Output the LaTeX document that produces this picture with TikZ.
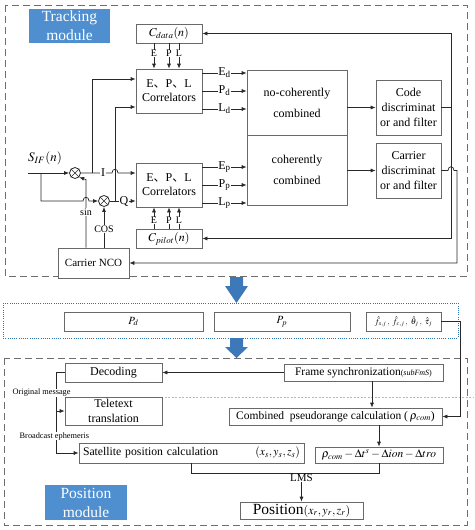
\documentclass[tikz,border=0pt]{standalone}
\usepackage{mathptmx}
\usepackage{fontspec}
\setmainfont{Liberation Serif}
\newfontfamily\cjk{Noto Sans CJK SC}
\usetikzlibrary{arrows.meta,shadows,calc}
\definecolor{lblue}{RGB}{79,143,207}
\definecolor{ablue}{RGB}{61,120,185}
\definecolor{dblue}{RGB}{46,117,182}
\definecolor{bord}{RGB}{105,105,105}
\definecolor{ln}{RGB}{40,40,40}
\definecolor{dashg}{RGB}{110,110,110}
\newcommand{\EPL}{E{\cjk 、}P{\cjk 、}L}
\begin{document}
\begin{tikzpicture}[x=1pt,y=-1pt,
  box/.style={draw=bord, line width=0.7pt, fill=white, inner sep=0pt, align=center,
    drop shadow={shadow xshift=1pt, shadow yshift=-1pt, opacity=0.3, fill=gray},
    font=\fontsize{12}{14}\selectfont},
  modlbl/.style={fill=lblue, text=white, inner sep=0pt, align=center, font=\fontsize{15.5}{19}\selectfont},
  lbl/.style={fill=white, inner sep=1pt, font=\fontsize{12}{14}\selectfont},
  sml/.style={fill=white, inner sep=0.6pt, font=\fontsize{10}{12}\selectfont},
  tiny/.style={fill=white, inner sep=0.5pt, font=\fontsize{8.3}{10}\selectfont},
  conn/.style={draw=ln, line width=0.7pt},
  arr/.style={conn, -{Latex[length=5pt,width=4pt]}},
  mix/.style={circle, draw=ln, line width=0.8pt, minimum size=11pt, inner sep=0pt, fill=white},
  modframe/.style={draw=dashg, line width=0.9pt, dash pattern=on 7pt off 4pt}
]
\useasboundingbox (0,0) rectangle (474,530);

% ---------- frames ----------
\draw[modframe] (5,5) rectangle (467,276);
\draw[modframe] (4,358) rectangle (467,525);
\draw[dblue, line width=1pt, dash pattern=on 1pt off 1.2pt] (3,303) rectangle (458,338);
\coordinate (dstart) at (70,397);
\coordinate (dend) at (474,397);
\draw[gray!55, line width=0.5pt, dash pattern=on 2pt off 1.5pt] (dstart) -- (dend);

% ---------- blue arrows ----------
\fill[ablue] (230,277) -- (243,277) -- (243,286) -- (248,286) -- (236.5,303) -- (225,286) -- (230,286) -- cycle;
\fill[ablue] (230,338) -- (243,338) -- (243,347) -- (248,347) -- (236.5,358) -- (225,347) -- (230,347) -- cycle;

% ---------- tracking module ----------
\node[modlbl, minimum width=81pt, minimum height=34pt] (trk) at (69.5,26) {Tracking\\module};
\node[box, minimum width=66pt, minimum height=19pt] (cdata) at (169,33.5) {$C_{data}(n)$};
\node[box, minimum width=66pt, minimum height=44pt] (corr1) at (169,91) {\EPL\\Correlators};
\node[box, minimum width=100pt, minimum height=65pt, font=\fontsize{12}{21}\selectfont] (nocoh) at (297,102.5) {no-coherently\\combined};
\node[box, minimum width=100pt, minimum height=70pt, font=\fontsize{12}{21}\selectfont] (coh) at (297,170) {coherently\\combined};
\node[box, minimum width=65pt, minimum height=55pt, font=\fontsize{12}{15}\selectfont] (codedisc) at (408.5,107.5) {Code\\discriminat\\or and filter};
\node[box, minimum width=65pt, minimum height=55pt, font=\fontsize{12}{15}\selectfont] (cardisc) at (408.5,170.5) {Carrier\\discriminat\\or and filter};
\node[box, minimum width=66pt, minimum height=44pt] (corr2) at (169,185) {\EPL\\Correlators};
\node[box, minimum width=66pt, minimum height=19pt] (cpilot) at (169,238.5) {$C_{pilot}(n)$};
\node[box, minimum width=71pt, minimum height=30pt, font=\fontsize{11}{13}\selectfont] (nco) at (93.5,263) {Carrier NCO};

\node[mix] (mix1) at (75,173) {};
\node[mix] (mix2) at (104,201) {};
\draw[conn] (mix1.north west) -- (mix1.south east) (mix1.north east) -- (mix1.south west);
\draw[conn] (mix2.north west) -- (mix2.south east) (mix2.north east) -- (mix2.south west);

\node[inner sep=0pt, font=\fontsize{13}{15}\selectfont] (sif) at (45,158) {$S_{IF}(n)$};
\coordinate (in) at (28,173);
\coordinate (br) at (41,173);
\coordinate (Ibr) at (92,173);
\coordinate (Qbr) at (115,201);
\coordinate (cr) at (451,0);

\draw[arr] (in) -- (mix1.west);
\draw[arr] (br) -- (br |- mix2.west) -- (83,201) .. controls (83,196) and (89,196) .. (89,201) -- (mix2.west);
\draw[arr] (mix1.east) -- (112,173) .. controls (112,168) and (118,168) .. (118,173) -- ([yshift=12pt]corr2.west);
\draw[arr] (Ibr) |- ([yshift=12pt]corr1.west);
\draw[arr] (mix2.east) -- ([yshift=-16pt]corr2.west);
\draw[arr] (Qbr) |- ([yshift=-16pt]corr1.west);
\node[lbl] (ilbl) at (103,173) {I};
\node[lbl] (qlbl) at (124,201) {Q};

\draw[arr] ([xshift=-7.5pt]nco.north) -- ++(0,-68) -- (mix1.south east);
\draw[arr] (nco.north -| mix2) -- (mix2.south);
\node[sml] (sinl) at (86,212) {sin};
\node[sml] (cosl) at (104,229) {COS};

\foreach \dx/\t in {-15/E,0/P,10/L}{
  \draw[arr] ([xshift=\dx pt]cdata.south) -- ([xshift=\dx pt]cdata.south |- corr1.north)
    node[pos=0.4, sml, inner sep=0.3pt] (cd\t) {\t};
  \draw[arr] ([xshift=\dx pt]cpilot.north) -- ([xshift=\dx pt]cpilot.north |- corr2.south)
    node[pos=0.4, sml, inner sep=0.3pt] (cp\t) {\t};
}
\foreach \dy/\t in {18/E,0/P,-18/L}{
  \draw[arr] ([yshift=\dy pt]corr1.east) -- ([yshift=\dy pt]corr1.east -| nocoh.west)
    node[midway, lbl, inner sep=0.5pt] (od\t) {\t\textsubscript{d}};
  \draw[arr] ([yshift=\dy pt]corr2.east) -- ([yshift=\dy pt]corr2.east -| coh.west)
    node[midway, lbl, inner sep=0.5pt] (op\t) {\t\textsubscript{p}};
}
\draw[arr] (codedisc.west -| nocoh.east) -- (codedisc.west);
\draw[arr] (cardisc.west -| coh.east) -- (cardisc.west);
\draw[conn] (codedisc.east) -- (codedisc.east -| cr);
\draw[arr] (codedisc.east -| cr) |- (cdata.east);
\draw[arr] (codedisc.east -| cr) |- (cpilot.east);
\draw[arr] (cardisc.east) -- (448,170.5) .. controls (448,165.5) and (454,165.5) .. (454,170.5) -- (457,170.5) |- (nco.east);

% ---------- middle ----------
\node[box, minimum width=139pt, minimum height=19pt, font=\fontsize{11}{13}\selectfont] (pd) at (133.5,321.5) {$P_d$};
\node[box, minimum width=136pt, minimum height=19pt, font=\fontsize{11}{13}\selectfont] (pp) at (282,321.5) {$P_p$};
\node[box, minimum width=75pt, minimum height=19pt, font=\fontsize{8.5}{11}\selectfont] (par) at (403.5,321.5) {$\hat{f}_{s,j}\,,\ \hat{f}_{c,j}\,,\ \hat{\theta}_{j}\,,\ \hat{\tau}_{j}$};

% ---------- position module ----------
\node[box, minimum width=97pt, minimum height=19pt] (decod) at (113.5,372.5) {Decoding};
\node[box, minimum width=159pt, minimum height=17pt, font=\fontsize{11.5}{13}\selectfont] (frame) at (363.5,372.5) {Frame synchronization{\fontsize{8}{10}\selectfont(\textit{subFmS})}};
\node[box, minimum width=97pt, minimum height=28pt, font=\fontsize{12}{15}\selectfont] (tele) at (113.5,411) {Teletext\\translation};
\node[box, minimum width=213pt, minimum height=17pt, font=\fontsize{11.5}{13}\selectfont] (comb) at (335.5,416.5) {Combined\ \ pseudorange calculation (\,$\rho_{com}$)};
\node[box, minimum width=225pt, minimum height=20pt, text width=217pt, align=left, font=\fontsize{11.7}{13}\selectfont] (sat) at (191.5,453) {Satellite position calculation\hfill$(x_s,y_s,z_s)$};
\node[box, minimum width=128pt, minimum height=16pt, font=\fontsize{11.5}{13}\selectfont] (rho) at (379,455) {$\rho_{com}-\Delta t^s-\Delta ion-\Delta tro$};
\node[box, minimum width=123pt, minimum height=17pt] (pos) at (301.5,510.5) {{\fontsize{15.5}{17}\selectfont Position}$(x_r,y_r,z_r)$};
\node[modlbl, minimum width=82pt, minimum height=35pt] (posm) at (86,502.5) {Position\\module};

\coordinate (lv) at (56,0);
\coordinate (pr) at (460,0);
\coordinate (lmsy) at (0,473);
\draw[arr] (decod.west) -| (lv |- sat.west) -- (sat.west);
\draw[arr] (lv |- tele.west) -- (tele.west);
\draw[arr] (frame.west) -- (decod.east);
\draw[arr] ([xshift=8.5pt]frame.south) -- ([xshift=8.5pt]frame.south |- comb.north);
\draw[arr] (par.east) -- (par.east -| pr) |- (comb.east);
\draw[arr] (comb.south -| rho.north) -- (rho.north);
\draw[conn] (sat.south) |- (lmsy -| rho.south) -- (rho.south);
\node[fill=white, inner sep=0.5pt, font=\fontsize{11}{13}\selectfont, anchor=north] (lms) at ([yshift=-0.6pt]lmsy -| pos.north) {LMS};
\draw[arr] (lms.south) -- (pos.north);

\node[tiny, anchor=west] (orig) at (12,393) {Original message};
\node[tiny, anchor=west] (bcast) at (19,436) {Broadcast ephemeris};
\end{tikzpicture}
\end{document}
